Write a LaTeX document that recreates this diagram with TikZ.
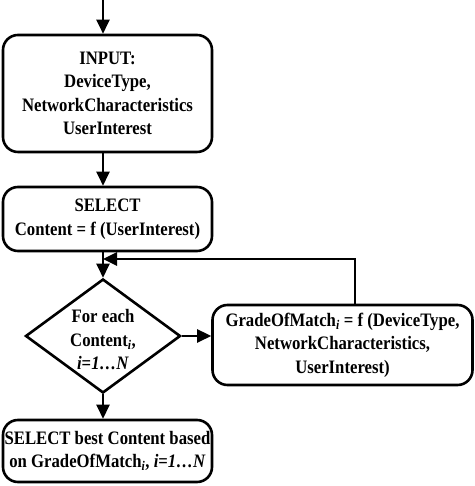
\documentclass[tikz,border=0pt]{standalone}
\usepackage{fontspec}
\setmainfont{Liberation Serif}[FakeStretch=0.88]
\usetikzlibrary{positioning, arrows.meta, shapes.geometric}
\tikzset{
	>={Triangle[length=14pt,width=13pt]},
	every node/.style={font=\bfseries\fontsize{19}{23.5}\selectfont, align=center},
	block/.style={draw, line width=2.6pt, rounded corners=15pt, inner sep=0pt},
	flow/.style={->, line width=2.6pt}
}

\begin{document}
\begin{tikzpicture}
	[ x=1pt, y=1pt ]
	\useasboundingbox (0,0) rectangle (474,486);
	\coordinate (start) at (103,486);
	\coordinate (join) at (103,227);
	\node(input)[block, minimum width=209pt, minimum height=117pt] at (107.5,392.5)
		{INPUT:\\DeviceType,\\NetworkCharacteristics\\UserInterest};
	\node(select)[block, minimum width=209pt, minimum height=64pt] at (107.5,267)
		{SELECT\\Content = f (UserInterest)};
	\node(loop)[draw, diamond, line width=2.6pt, minimum width=155pt, minimum height=114pt, inner sep=0pt] at (103,150) {};
	\node(looptxt) at ([yshift=-4pt]loop.center)
		{For each\\Content\textsubscript{\itshape i},\\\textit{i}=\textit{1\ldots N}};
	\node(grade)[block, minimum width=260pt, minimum height=80pt] at (342.5,141)
		{GradeOfMatch\textsubscript{\itshape i} = f (DeviceType,\\NetworkCharacteristics,\\UserInterest)};
	\node(best)[block, minimum width=209pt, minimum height=62pt] at (107.5,35)
		{SELECT best Content based\\on GradeOfMatch\textsubscript{\itshape i}, \textit{i}=\textit{1\ldots N}};
	\path
	(start) edge[flow] (start |- input.north)
	(input.south -| start) edge[flow] (select.north -| start)
	(select.south -| start) edge[flow] (loop.north)
	(loop.east) edge[flow] (loop.east -| grade.west)
	(loop.south) edge[flow] (best.north -| loop.south)
	;
	\draw[flow] (grade.north) ++(12.5,0) |- (join);
\end{tikzpicture}
\end{document}
